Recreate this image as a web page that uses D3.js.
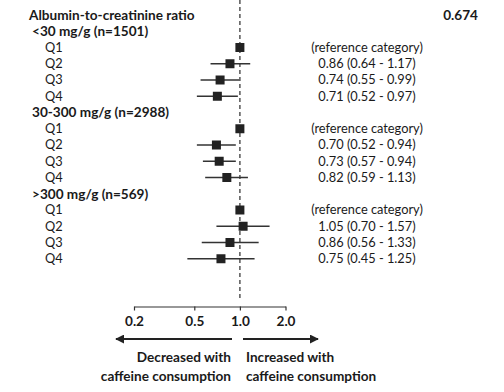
<!DOCTYPE html>
<html><head><meta charset="utf-8">
<script src="https://cdn.jsdelivr.net/npm/d3@7"></script>
<style>body{margin:0;background:#fff}text{font-family:Lato,"Open Sans",sans-serif;fill:#1a1a1a}</style>
</head><body><svg id="c" width="504" height="392"></svg>
<script>
const groups = ["<30 mg/g (n=1501)", "30-300 mg/g (n=2988)", ">300 mg/g (n=569)"];
const quartiles = ["Q1", "Q2", "Q3", "Q4"];
const estimates = [[1, 0.86, 0.74, 0.71], [1, 0.70, 0.73, 0.82], [1, 1.05, 0.86, 0.75]];
const lower = [[null, 0.64, 0.55, 0.52], [null, 0.52, 0.57, 0.59], [null, 0.70, 0.56, 0.45]];
const upper = [[null, 1.17, 0.99, 0.97], [null, 0.94, 0.94, 1.13], [null, 1.57, 1.33, 1.25]];
const tickValues = [0.2, 0.5, 1.0, 2.0];
const tickLabels = ["0.2", "0.5", "1.0", "2.0"];
const title = "Albumin-to-creatinine ratio";
const pValue = "0.674";

const svg = d3.select("#c");
const x = d3.scaleLog().domain([0.2, 2.0]).range([134, 285.5]);
const rowY = d3.scaleLinear().domain([0, 15]).range([15, 258.75]);
const fs = 12.8, fsb = 13.6;

svg.append("line").attr("x1", x(1)).attr("x2", x(1)).attr("y1", 0).attr("y2", 300)
  .attr("stroke", "#555").attr("stroke-width", 1.5).attr("stroke-dasharray", "4,3");

svg.append("text").attr("x", 29).attr("y", rowY(0)).attr("dy", "0.35em")
  .attr("font-weight", "bold").attr("font-size", fsb).text(title);
svg.append("text").attr("x", 478).attr("y", rowY(0)).attr("dy", "0.35em").attr("text-anchor", "end")
  .attr("font-weight", "bold").attr("font-size", fsb).text(pValue);

groups.forEach((g, gi) => {
  const base = 1 + gi * 5;
  svg.append("text").attr("x", 32).attr("y", rowY(base)).attr("dy", "0.35em")
    .attr("font-weight", "bold").attr("font-size", fsb).text(g);
  quartiles.forEach((q, qi) => {
    const yy = rowY(base + 1 + qi);
    svg.append("text").attr("x", 45).attr("y", yy).attr("dy", "0.35em").attr("font-size", fs).text(q);
    const est = estimates[gi][qi], lo = lower[gi][qi], hi = upper[gi][qi];
    if (lo != null) {
      svg.append("line").attr("x1", x(lo)).attr("x2", x(hi)).attr("y1", yy).attr("y2", yy)
        .attr("stroke", "#333").attr("stroke-width", 1.5);
    }
    svg.append("rect").attr("x", x(est) - 4.5).attr("y", yy - 4.5).attr("width", 9).attr("height", 9)
      .attr("fill", "#222");
    const label = lo == null ? "(reference category)"
      : `${est.toFixed(2)} (${lo.toFixed(2)} - ${hi.toFixed(2)})`;
    svg.append("text").attr("x", 367).attr("y", yy).attr("dy", "0.35em").attr("text-anchor", "middle")
      .attr("font-size", fs).text(label);
  });
});

const axis = d3.axisBottom(x).tickValues(tickValues).tickFormat((d, i) => tickLabels[i])
  .tickSize(4).tickSizeOuter(0).tickPadding(6);
const ag = svg.append("g").attr("transform", "translate(0,306.5)").call(axis);
ag.select(".domain").attr("stroke", "#333").attr("stroke-width", 1.2);
ag.selectAll(".tick line").attr("stroke", "#333").attr("stroke-width", 1.2);
ag.selectAll(".tick text").attr("font-family", "Lato, 'Open Sans', sans-serif")
  .attr("font-size", fsb).attr("font-weight", "bold").attr("fill", "#1a1a1a");

const defs = svg.append("defs");
defs.append("marker").attr("id", "ah").attr("viewBox", "0 0 10 10").attr("refX", 9).attr("refY", 5)
  .attr("markerWidth", 5).attr("markerHeight", 5).attr("orient", "auto")
  .append("path").attr("d", "M0,0 L10,5 L0,10 z").attr("fill", "#222");
svg.append("line").attr("x1", 232).attr("x2", 116).attr("y1", 339).attr("y2", 339)
  .attr("stroke", "#222").attr("stroke-width", 1.8).attr("marker-end", "url(#ah)");
svg.append("line").attr("x1", 243).attr("x2", 318).attr("y1", 339).attr("y2", 339)
  .attr("stroke", "#222").attr("stroke-width", 1.8).attr("marker-end", "url(#ah)");

const leftLines = ["Decreased with", "caffeine consumption"];
const rightLines = ["Increased with", "caffeine consumption"];
leftLines.forEach((t, i) => svg.append("text").attr("x", 231).attr("y", 357 + i * 19).attr("dy", "0.35em")
  .attr("text-anchor", "end").attr("font-weight", "bold").attr("font-size", fsb).text(t));
rightLines.forEach((t, i) => svg.append("text").attr("x", 246).attr("y", 357 + i * 19).attr("dy", "0.35em")
  .attr("font-weight", "bold").attr("font-size", fsb).text(t));
</script></body></html>
